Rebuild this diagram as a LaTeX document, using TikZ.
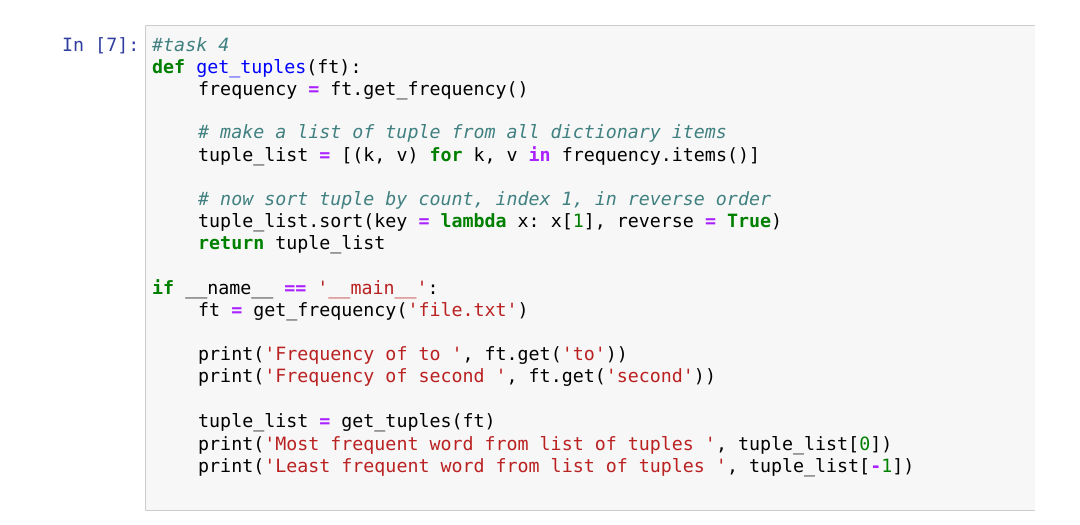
\documentclass[tikz,border=0pt]{standalone}
\usepackage{fontspec}
\setmonofont{DejaVu Sans Mono}
\definecolor{kwc}{HTML}{008000}
\definecolor{cmc}{HTML}{408080}
\definecolor{stc}{HTML}{BA2121}
\definecolor{opc}{HTML}{AA22FF}
\definecolor{fnc}{HTML}{0000FF}
\definecolor{promptc}{HTML}{303F9F}
\newcommand{\kw}[1]{\textcolor{kwc}{\bfseries #1}}
\newcommand{\cm}[1]{\textcolor{cmc}{\itshape #1}}
\newcommand{\stt}[1]{\textcolor{stc}{#1}}
\newcommand{\op}[1]{\textcolor{opc}{\bfseries #1}}
\newcommand{\nmb}[1]{\textcolor{kwc}{#1}}
\newcommand{\fnn}[1]{\textcolor{fnc}{#1}}
\begin{document}
\begin{tikzpicture}[x=1pt,y=-1pt,
  code/.style={anchor=base west,inner sep=0pt,font=\fontsize{18.3}{20}\ttfamily}]
\useasboundingbox (0,0) rectangle (1080,525);
\fill[white] (0,0) rectangle (1080,525);
\fill[black!3] (145.5,25.5) rectangle (1035,509.5);
\draw[draw=black!20] (1035,25) -- (145,25) -- (145,510) -- (1035,510);
\node[code,text=promptc] (prompt) at (62,51) {In [7]:};
\node[code] (l1) at (152,51) {\cm{\#task 4}};
\node[code] (l2) at (152,73) {\kw{def} \fnn{get\_tuples}(ft):};
\node[code] (l3) at (198,95) {frequency \op{=} ft.get\_frequency()};
\node[code] (l5) at (198,138) {\cm{\# make a list of tuple from all dictionary items}};
\node[code] (l6) at (198,161) {tuple\_list \op{=} [(k, v) \kw{for} k, v \op{in} frequency.items()]};
\node[code] (l8) at (198,205) {\cm{\# now sort tuple by count, index 1, in reverse order}};
\node[code] (l9) at (198,227) {tuple\_list.sort(key \op{=} \kw{lambda} x: x[\nmb{1}], reverse \op{=} \kw{True})};
\node[code] (l10) at (198,249) {\kw{return} tuple\_list};
\node[code] (l12) at (152,294) {\kw{if} \_\_name\_\_ \op{==} \stt{'\_\_main\_\_'}:};
\node[code] (l13) at (198,316) {ft \op{=} get\_frequency(\stt{'file.txt'})};
\node[code] (l15) at (198,360) {print(\stt{'Frequency of to '}, ft.get(\stt{'to'}))};
\node[code] (l16) at (198,382) {print(\stt{'Frequency of second '}, ft.get(\stt{'second'}))};
\node[code] (l18) at (198,427) {tuple\_list \op{=} get\_tuples(ft)};
\node[code] (l19) at (198,450) {print(\stt{'Most frequent word from list of tuples '}, tuple\_list[\nmb{0}])};
\node[code] (l20) at (198,472) {print(\stt{'Least frequent word from list of tuples '}, tuple\_list[\op{-}\nmb{1}])};
\end{tikzpicture}
\end{document}
